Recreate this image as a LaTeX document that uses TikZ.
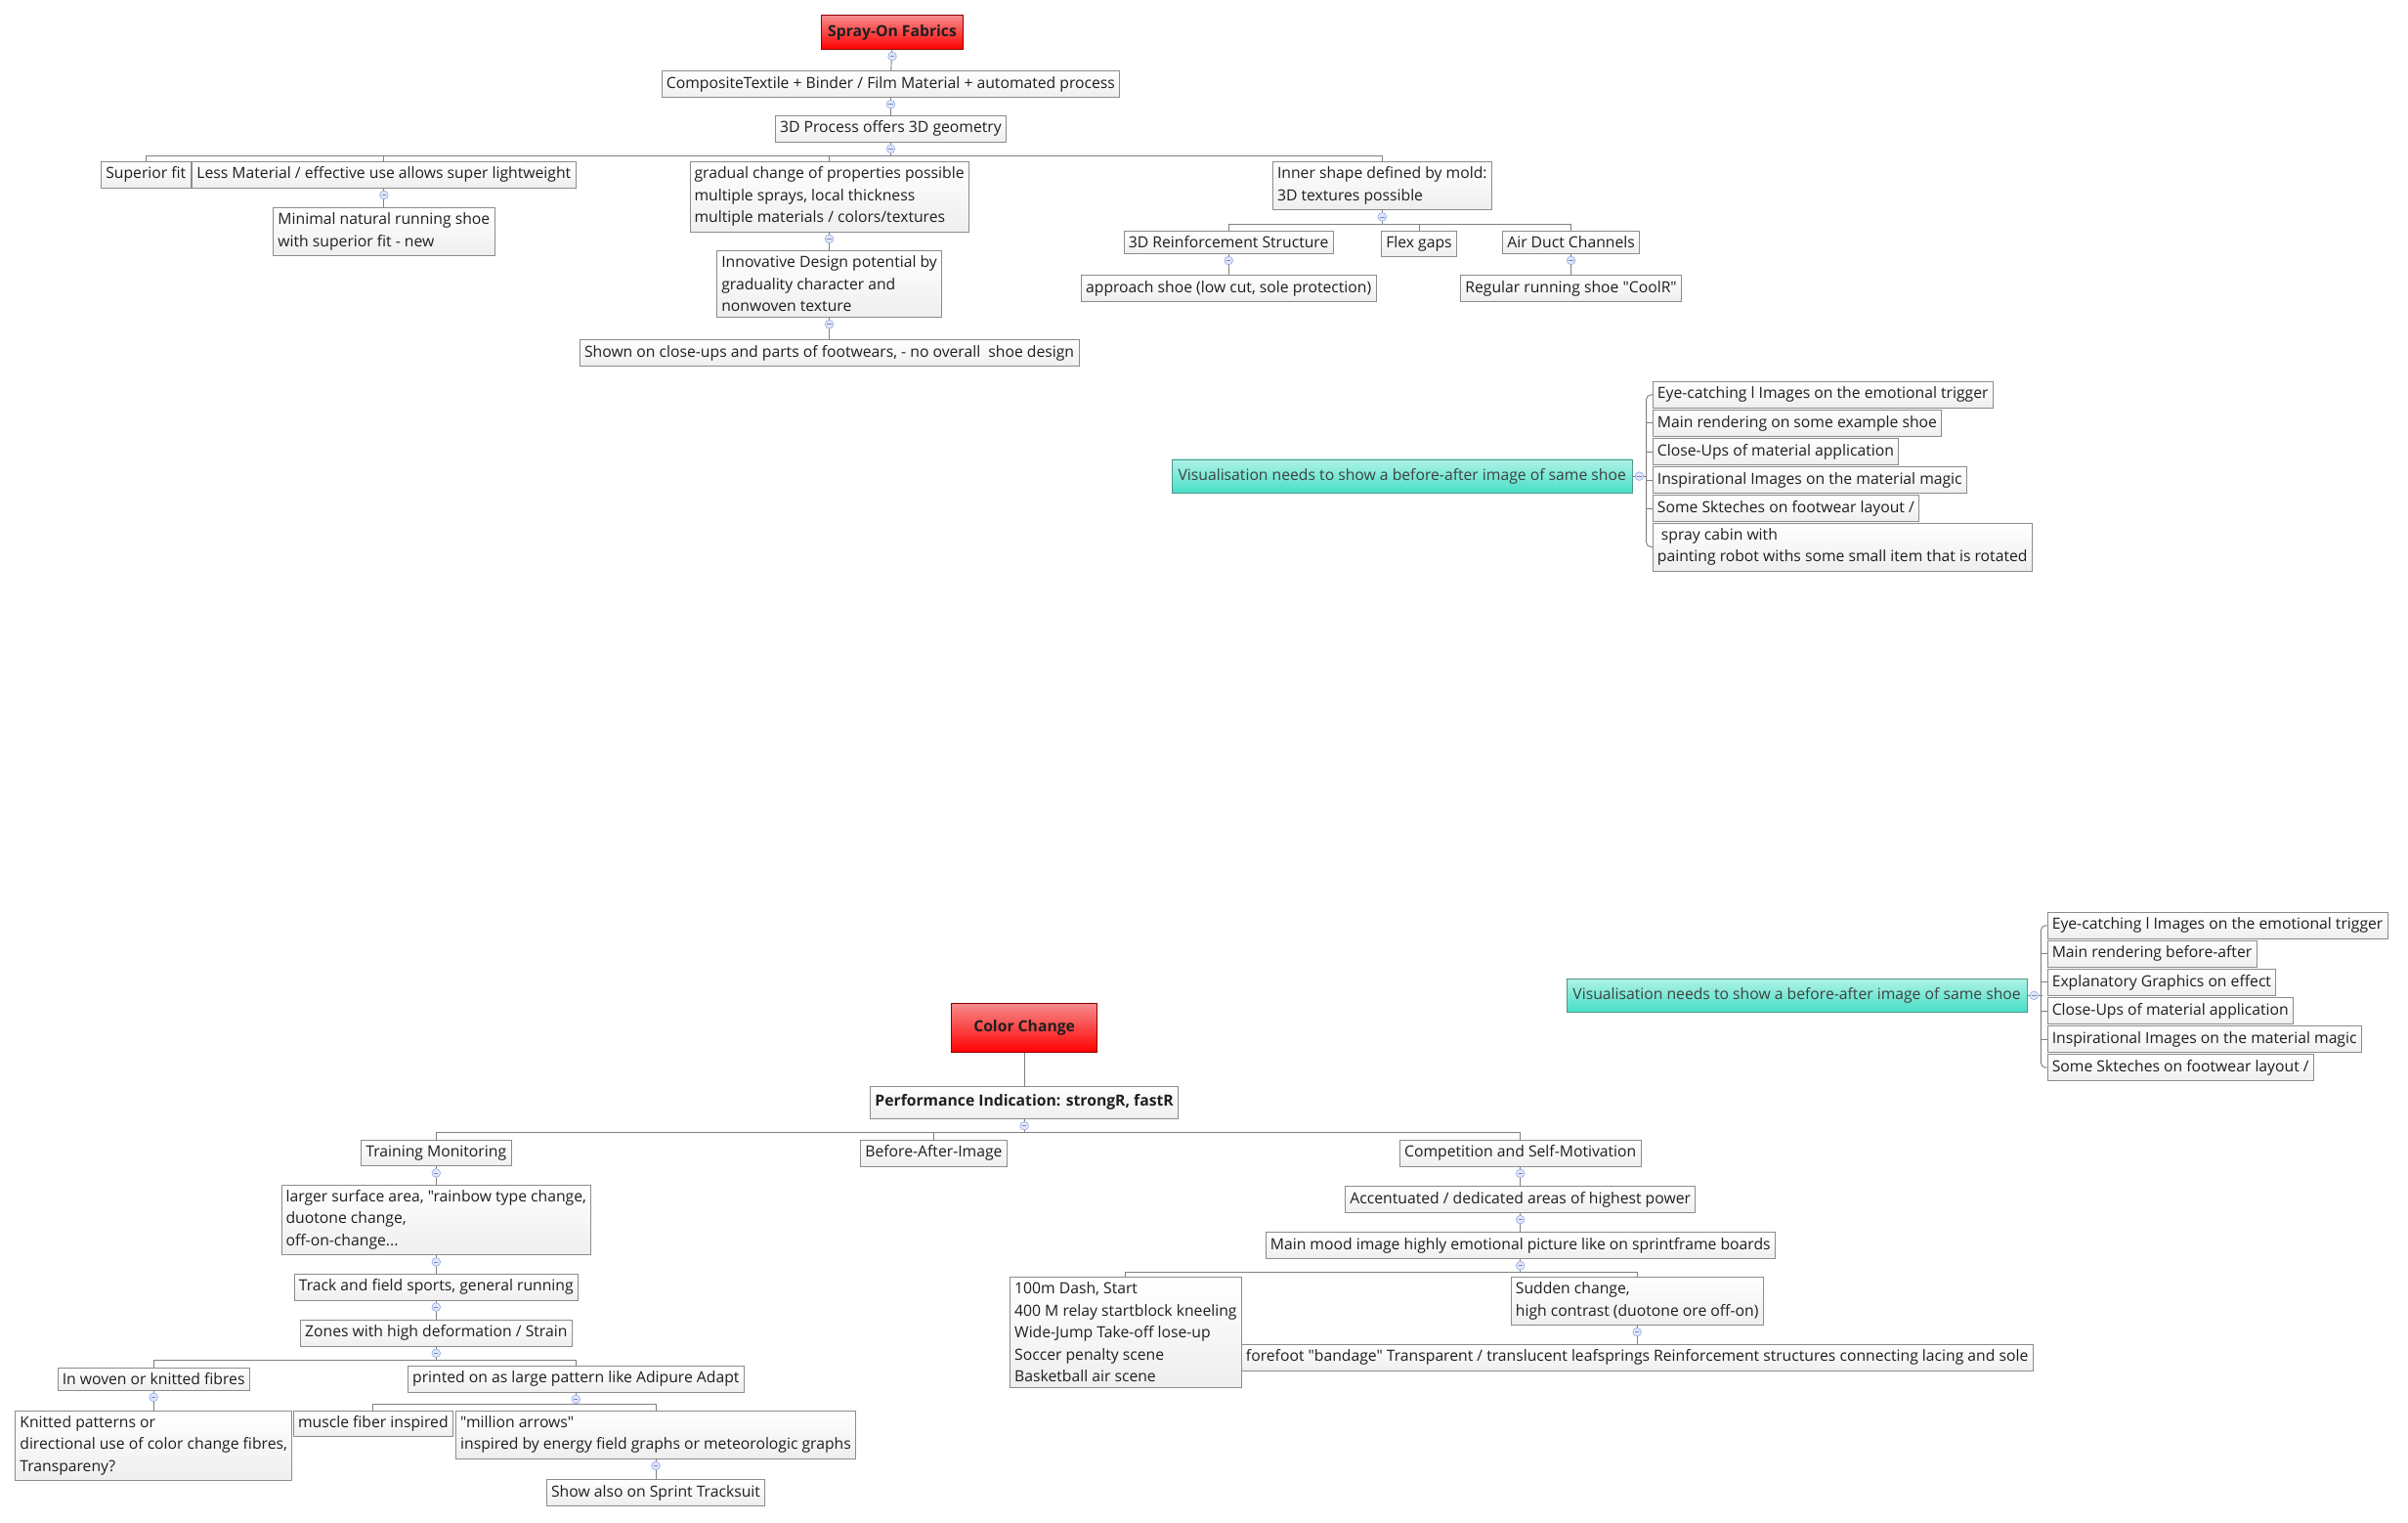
\documentclass[tikz,border=0pt]{standalone}
\usepackage{fontspec}
\setmainfont{Open Sans}[Ligatures=TeXOff]
\usetikzlibrary{positioning}

\definecolor{topicred}{RGB}{255,0,0}
\definecolor{topicpink}{RGB}{245,140,140}
\definecolor{tealtop}{RGB}{175,243,230}
\definecolor{tealbot}{RGB}{70,222,198}
\definecolor{tealline}{RGB}{80,150,140}
\definecolor{linegray}{RGB}{128,128,128}
\definecolor{boxgray}{RGB}{140,140,140}
\definecolor{foldblue}{RGB}{140,175,225}

\begin{document}
\begin{tikzpicture}[
                    x=1pt, y=-1pt,
                    every node/.style={font=\fontsize{10}{14.3}\selectfont, text=black!88},
                    topic/.style={draw=red!55!black, top color=topicpink, bottom color=topicred, font=\fontsize{10}{12}\selectfont\bfseries, inner sep=3pt},
                    idea/.style={draw=boxgray, top color=white, bottom color=gray!13, align=left, inner xsep=3pt, inner ysep=3.5pt},
                    head/.style={idea, font=\fontsize{10}{12}\selectfont\bfseries, minimum height=21pt},
                    visual/.style={draw=tealline, top color=tealtop, bottom color=tealbot, minimum height=22pt, inner xsep=4pt, text=black!75},
                    link/.style={draw=linegray, line width=0.6pt},
                    fold/.style={circle, draw=foldblue, fill=blue!10, inner sep=0pt, minimum size=5.5pt,
                        path picture={\draw[foldblue!80!black, line width=0.5pt] ([xshift=-1.4pt]path picture bounding box.center) -- ([xshift=1.4pt]path picture bounding box.center);}}
                ]
                  \fill[white] (0,0) rectangle (1568,991);
                  \useasboundingbox (0,0) rectangle (1568,991);

                  \node[topic, minimum width=92pt, minimum height=22pt] (spray) at (581,21) {Spray-On Fabrics};
                  \node[idea, anchor=north] (comp) at (580,46) {CompositeTextile + Binder / Film Material + automated process};
                  \node[idea, anchor=north] (proc) at (580,75) {3D Process offers 3D geometry};
                  \node[idea, anchor=north] (fit) at (95,105) {Superior fit};
                  \node[idea, anchor=north] (less) at (250,105) {Less Material / effective use allows super lightweight};
                  \node[idea, anchor=north] (grad) at (540,105) {gradual change of properties possible\\multiple sprays, local thickness\\multiple materials / colors/textures};
                  \node[idea, anchor=north] (inner) at (900,105) {Inner shape defined by mold:\\3D textures possible};
                  \node[idea, anchor=north] (mini) at (250,135) {Minimal natural running shoe\\with superior fit - new};
                  \node[idea, anchor=north] (innov) at (540,163) {Innovative Design potential by\\graduality character and\\nonwoven texture};
                  \node[idea, anchor=north] (shown) at (540,221) {Shown on close-ups and parts of footwears, - no overall \ shoe design};
                  \node[idea, anchor=north] (reinf) at (800,150) {3D Reinforcement Structure};
                  \node[idea, anchor=north] (flex) at (924,150) {Flex gaps};
                  \node[idea, anchor=north] (air) at (1023,150) {Air Duct Channels};
                  \node[idea, anchor=north] (approach) at (800,179) {approach shoe (low cut, sole protection)};
                  \node[idea, anchor=north] (regular) at (1023,179) {Regular running shoe "CoolR"};

                  \node[visual] (vis) at (913,310) {Visualisation needs to show a before-after image of same shoe};
                  \node[idea, anchor=west] (va1) at (1076,257) {Eye-catching l Images on the emotional trigger};
                  \node[idea, anchor=west] (va2) at (1076,275.5) {Main rendering on some example shoe};
                  \node[idea, anchor=west] (va3) at (1076,294) {Close-Ups of material application};
                  \node[idea, anchor=west] (va4) at (1076,312.5) {Inspirational Images on the material magic};
                  \node[idea, anchor=west] (va5) at (1076,331) {Some Skteches on footwear layout /};
                  \node[idea, anchor=west] (va6) at (1076,356) {\ spray cabin with\\painting robot withs some small item that is rotated};

                  \node[visual] (visb) at (1170,648) {Visualisation needs to show a before-after image of same shoe};
                  \node[idea, anchor=west] (vb1) at (1333,602.5) {Eye-catching l Images on the emotional trigger};
                  \node[idea, anchor=west] (vb2) at (1333,621) {Main rendering before-after};
                  \node[idea, anchor=west] (vb3) at (1333,639.5) {Explanatory Graphics on effect};
                  \node[idea, anchor=west] (vb4) at (1333,658) {Close-Ups of material application};
                  \node[idea, anchor=west] (vb5) at (1333,676.5) {Inspirational Images on the material magic};
                  \node[idea, anchor=west] (vb6) at (1333,695) {Some Skteches on footwear layout /};

                  \node[topic, minimum width=95pt, minimum height=32pt] (color) at (667,669) {Color Change};
                  \node[head, anchor=north] (perf) at (667,707) {Performance Indication: strongR, fastR};
                  \node[idea, anchor=north] (train) at (284,742) {Training Monitoring};
                  \node[idea, anchor=north] (before) at (608,742) {Before-After-Image};
                  \node[idea, anchor=north] (compet) at (990,742) {Competition and Self-Motivation};
                  \node[idea, anchor=north] (larger) at (284,771) {larger surface area, "rainbow type change,\\duotone change,\\off-on-change...};
                  \node[idea, anchor=north] (track) at (284,829) {Track and field sports, general running};
                  \node[idea, anchor=north] (zones) at (284,859) {Zones with high deformation / Strain};
                  \node[idea, anchor=north] (woven) at (100,890) {In woven or knitted fibres};
                  \node[idea, anchor=north] (printed) at (375,889) {printed on as large pattern like Adipure Adapt};
                  \node[idea, anchor=north] (knit) at (100,918) {Knitted patterns or\\directional use of color change fibres,\\Transpareny?};
                  \node[idea, anchor=north] (muscle) at (243,918) {muscle fiber inspired};
                  \node[idea, anchor=north] (million) at (427,918) {"million arrows"\\inspired by energy field graphs or meteorologic graphs};
                  \node[idea, anchor=north] (sprint) at (427,963) {Show also on Sprint Tracksuit};
                  \node[idea, anchor=north] (accent) at (990,772) {Accentuated / dedicated areas of highest power};
                  \node[idea, anchor=north] (mood) at (990,802) {Main mood image highly emotional picture like on sprintframe boards};
                  \node[idea, anchor=north] (dash) at (733,831) {100m Dash, Start\\400 M relay startblock kneeling\\Wide-Jump Take-off lose-up\\Soccer penalty scene\\Basketball air scene};
                  \node[idea, anchor=north] (sudden) at (1066,831) {Sudden change,\\high contrast (duotone ore off-on)};
                  \node[idea, anchor=north] (fore) at (1066,875) {forefoot "bandage" Transparent / translucent leafsprings Reinforcement structures connecting lacing and sole};

                  \draw[link] (spray) -- (comp);
                  \draw[link] (comp) -- (proc);
                  \foreach \c in {fit,less,grad,inner} \draw[link] (proc.south) -- ++(0,9) -| (\c.north);
                  \draw[link] (less) -- (mini);
                  \draw[link] (grad) -- (innov);
                  \draw[link] (innov) -- (shown);
                  \foreach \c in {reinf,flex,air} \draw[link] (inner.south) -- ++(0,9) -| (\c.north);
                  \draw[link] (reinf) -- (approach);
                  \draw[link] (air) -- (regular);

                  \draw[link] (vis.east) -- ++(9,0);
                  \draw[link, rounded corners=3pt] (va1.west) -- ++(-4,0) |- (va6.west);
                  \foreach \n in {va2,va3,va4,va5} \draw[link] (\n.west) -- ++(-4,0);
                  \draw[link] (visb.east) -- ++(10,0);
                  \draw[link, rounded corners=3pt] (vb1.west) -- ++(-4,0) |- (vb6.west);
                  \foreach \n in {vb2,vb3,vb4,vb5} \draw[link] (\n.west) -- ++(-4,0);

                  \draw[link] (color) -- (perf);
                  \foreach \c in {train,before,compet} \draw[link] (perf.south) -- ++(0,9) -| (\c.north);
                  \draw[link] (train) -- (larger);
                  \draw[link] (larger) -- (track);
                  \draw[link] (track) -- (zones);
                  \foreach \c in {woven,printed} \draw[link] (zones.south) -- ++(0,9) -| (\c.north);
                  \draw[link] (woven) -- (knit);
                  \foreach \c in {muscle,million} \draw[link] (printed.south) -- ++(0,8) -| (\c.north);
                  \draw[link] (million) -- (sprint);
                  \draw[link] (compet) -- (accent);
                  \draw[link] (accent) -- (mood);
                  \foreach \c in {dash,sudden} \draw[link] (mood.south) -- ++(0,9) -| (\c.north);
                  \draw[link] (sudden) -- (fore);

                  \foreach \p in {spray,comp,proc,less,grad,innov,inner,reinf,air,perf,train,larger,track,zones,woven,printed,million,compet,accent,mood,sudden}
                    \node[fold, below=1.5pt of \p] {};
                  \node[fold, right=1.5pt of vis] {};
                  \node[fold, right=1.5pt of visb] {};
                \end{tikzpicture}
\end{document}
